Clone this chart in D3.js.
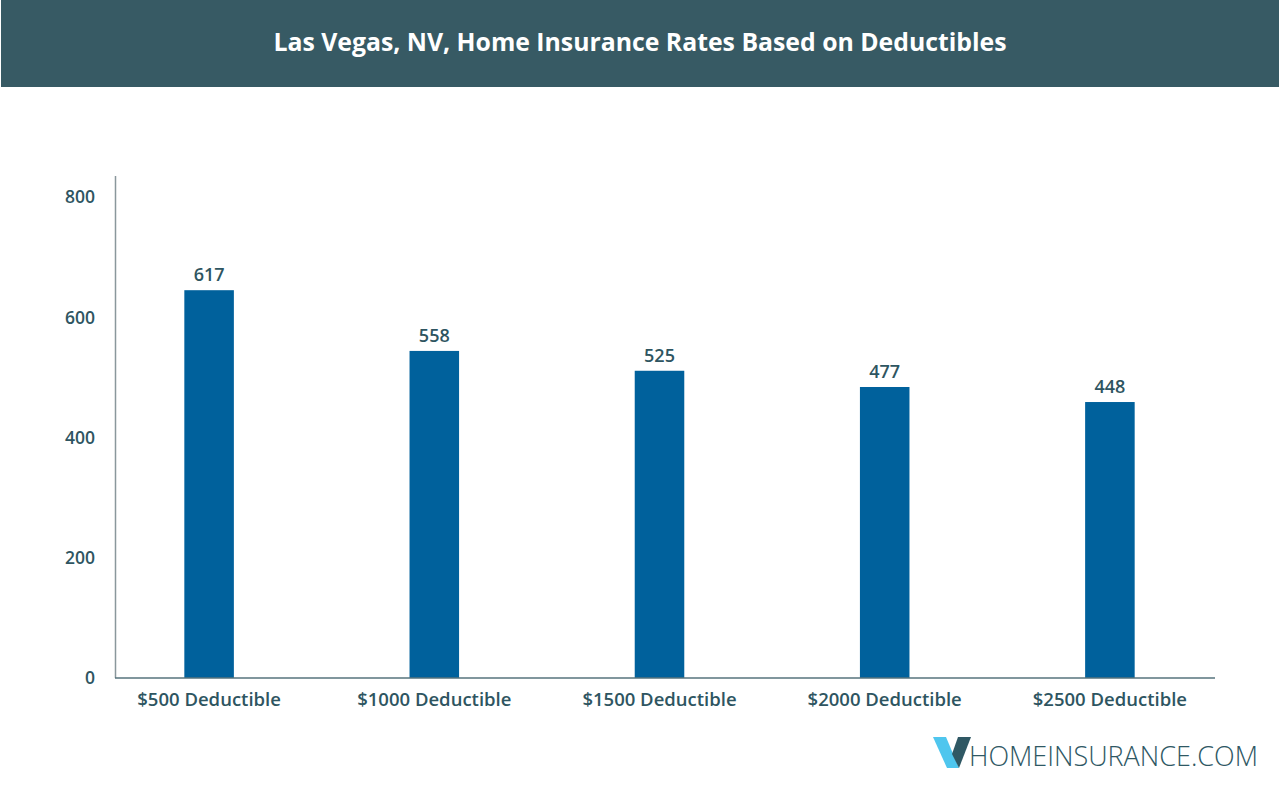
<!DOCTYPE html>
<html lang="en">
<head>
    <meta charset="UTF-8">
    <title>Las Vegas, NV, Home Insurance Rates Based on Deductibles</title>
    <script src="https://d3js.org/d3.v7.min.js"></script>
    <style>
        body {
            margin: 0;
            background: #fff;
            font-family: 'Open Sans', 'Noto Sans', sans-serif;
        }
        svg { display: block; }
    </style>
</head>
<body>
    <svg></svg>
    <script>
        const width = 1280;
        const height = 789;

        // data
        const categories = ["$500 Deductible", "$1000 Deductible", "$1500 Deductible", "$2000 Deductible", "$2500 Deductible"];
        const rateLabels = [617, 558, 525, 477, 448];      // printed above the bars
        const barHeights = [645, 544, 511, 484, 459];      // bar tops as drawn in the image
        const yTicks = [0, 200, 400, 600, 800];

        const svg = d3.select("svg").attr("width", width).attr("height", height);

        // header band
        svg.append("rect")
            .attr("x", 1).attr("y", 0)
            .attr("width", 1278).attr("height", 87)
            .attr("fill", "#375a64");
        svg.append("text")
            .attr("x", 640).attr("y", 51)
            .attr("text-anchor", "middle")
            .attr("fill", "#fff")
            .attr("font-size", 24.8)
            .attr("font-weight", 700)
            .text("Las Vegas, NV, Home Insurance Rates Based on Deductibles");

        const x = d3.scaleBand()
            .domain(categories)
            .range([96.5, 1222.5])
            .paddingInner(0.78)
            .paddingOuter(0.39);

        const y = d3.scaleLinear()
            .domain([0, 800])
            .range([678, 197]);

        const textColor = "#2e5561";

        // y axis line
        svg.append("line")
            .attr("x1", 115.5).attr("x2", 115.5)
            .attr("y1", 176).attr("y2", y(0))
            .attr("stroke", "#8a979c").attr("stroke-width", 1.5);

        // y tick labels
        svg.selectAll(".ytick")
            .data(yTicks)
            .enter()
            .append("text")
            .attr("class", "ytick")
            .attr("x", 95)
            .attr("y", d => y(d))
            .attr("dy", "0.36em")
            .attr("text-anchor", "end")
            .attr("fill", textColor)
            .attr("font-size", 17.5)
            .attr("font-weight", 600)
            .text(d => d);

        // bars
        svg.selectAll(".bar")
            .data(categories)
            .enter()
            .append("rect")
            .attr("class", "bar")
            .attr("x", d => x(d))
            .attr("width", x.bandwidth())
            .attr("y", (d, i) => y(barHeights[i]))
            .attr("height", (d, i) => y(0) - y(barHeights[i]))
            .attr("fill", "#00619c");

        // value labels
        svg.selectAll(".val")
            .data(categories)
            .enter()
            .append("text")
            .attr("class", "val")
            .attr("x", d => x(d) + x.bandwidth() / 2)
            .attr("y", (d, i) => y(barHeights[i]) - 9)
            .attr("text-anchor", "middle")
            .attr("fill", textColor)
            .attr("font-size", 18)
            .attr("font-weight", 600)
            .text((d, i) => rateLabels[i]);

        // baseline
        svg.append("line")
            .attr("x1", 115).attr("x2", 1215)
            .attr("y1", y(0)).attr("y2", y(0))
            .attr("stroke", "#56737d").attr("stroke-width", 1.5);

        // x labels
        svg.selectAll(".xlab")
            .data(categories)
            .enter()
            .append("text")
            .attr("class", "xlab")
            .attr("x", d => x(d) + x.bandwidth() / 2)
            .attr("y", 706)
            .attr("text-anchor", "middle")
            .attr("fill", textColor)
            .attr("font-size", 18.5)
            .attr("font-weight", 600)
            .text(d => d);

        // logo
        const logo = svg.append("g").attr("transform", "translate(933,737)");
        logo.append("path")
            .attr("d", "M0,0 L13,0 L26,31 L14,31 Z")
            .attr("fill", "#4fc6ee");
        logo.append("path")
            .attr("d", "M25,0 L38,0 L26,31 L19,17 Z")
            .attr("fill", "#2f5864");
        svg.append("text")
            .attr("x", 969).attr("y", 766)
            .attr("fill", "#2f5864")
            .attr("font-size", 28)
            .attr("font-weight", 300)
            .attr("textLength", 289)
            .attr("lengthAdjust", "spacingAndGlyphs")
            .text("HOMEINSURANCE.COM");
    </script>
</body>
</html>
